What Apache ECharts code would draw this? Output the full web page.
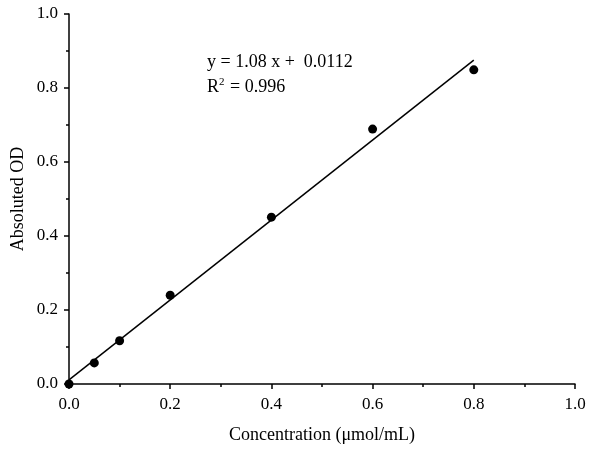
<!DOCTYPE html>
<html><head><meta charset="utf-8">
<script src="https://cdn.jsdelivr.net/npm/echarts@6/dist/echarts.min.js"></script>
<style>html,body{margin:0;padding:0;background:#fff}#c{width:600px;height:450px}</style>
</head><body><div id="c"></div>
<script>
const xValues = [0, 0.05, 0.1, 0.2, 0.4, 0.6, 0.8];
const odValues = [0.0, 0.057, 0.117, 0.24, 0.451, 0.689, 0.849];
const fitX = [0, 0.8];
const fitY = [0.0112, 0.8752];
const equationText = 'y = 1.08 x +  0.0112';
const r2Value = '0.996';

const chart = echarts.init(document.getElementById('c'));
const font = 'Liberation Serif';
const axisCommon = {
  min: 0, max: 1, interval: 0.2,
  axisLine: {show: true, lineStyle: {color: '#000', width: 1.5}},
  axisTick: {show: true, inside: false, length: 5, lineStyle: {color: '#000', width: 1.5}},
  minorTick: {show: true, splitNumber: 2, length: 3, lineStyle: {color: '#000', width: 1.5}},
  splitLine: {show: false},
  axisLabel: {color: '#000', fontFamily: font, fontSize: 17, formatter: v => v.toFixed(1)},
  nameLocation: 'middle',
  nameMoveOverlap: false,
  nameTextStyle: {color: '#000', fontFamily: font, fontSize: 18}
};
chart.setOption({
  animation: false,
  grid: {left: 69, right: 25, top: 14, bottom: 66},
  xAxis: Object.assign({}, axisCommon, {type: 'value', name: 'Concentration (μmol/mL)', nameGap: 42,
    axisLabel: Object.assign({}, axisCommon.axisLabel, {margin: 12})}),
  yAxis: Object.assign({}, axisCommon, {type: 'value', name: 'Absoluted OD', nameGap: 42,
    axisLabel: Object.assign({}, axisCommon.axisLabel, {margin: 11})}),
  graphic: [{
    type: 'text', left: 207, top: 53,
    style: {text: equationText, fontFamily: font, fontSize: 18, fill: '#000'}
  }, {
    type: 'text', left: 207, top: 77,
    style: {
      text: '{r|R}{s|2}{r| = ' + r2Value + '}',
      rich: {
        r: {fontFamily: font, fontSize: 18, color: '#000'},
        s: {fontFamily: font, fontSize: 11, color: '#000', verticalAlign: 'top', padding: [0, 1, 9, 0]}
      }
    }
  }],
  series: [{
    type: 'line',
    data: fitX.map((x, i) => [x, fitY[i]]),
    symbol: 'none',
    lineStyle: {color: '#000', width: 1.5},
    z: 2
  }, {
    type: 'scatter',
    clip: true,
    data: xValues.map((x, i) => [x, odValues[i]]),
    symbol: 'circle', symbolSize: 9,
    itemStyle: {color: '#000', opacity: 1},
    emphasis: {disabled: true},
    z: 3
  }]
});
</script></body></html>
